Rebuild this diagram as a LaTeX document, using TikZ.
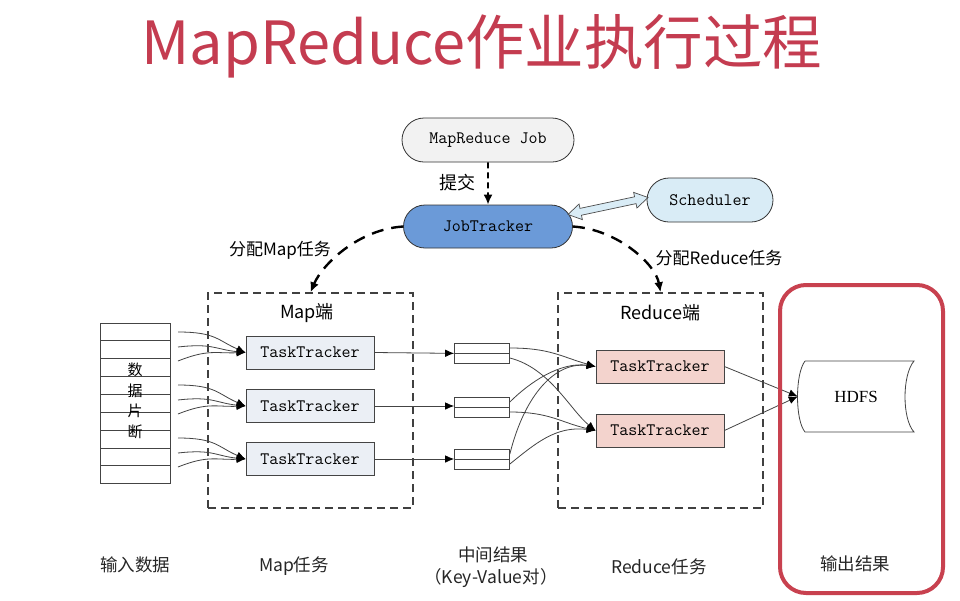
\documentclass[tikz,border=0pt]{standalone}
\usepackage{fontspec}
\setmainfont{Noto Sans CJK SC}
\newfontfamily\serifen{Liberation Serif}
\usetikzlibrary{arrows.meta,shapes.misc,calc}
\definecolor{titlered}{HTML}{C43C50}
\definecolor{boxred}{HTML}{C8414F}
\definecolor{jobfill}{HTML}{F2F2F2}
\definecolor{jtfill}{HTML}{6B9AD8}
\definecolor{schfill}{HTML}{D9ECF6}
\definecolor{mapfill}{HTML}{EBEFF5}
\definecolor{redfill}{HTML}{F3D3CD}
\definecolor{lineg}{HTML}{444444}
\begin{document}
\begin{tikzpicture}[x=1pt,y=-1pt,
  pill/.style={rounded rectangle,draw=black!80,line width=0.8pt,inner sep=0pt,
    font=\ttfamily\fontsize{17.5}{20}\selectfont},
  tt/.style={rectangle,draw=lineg,line width=0.8pt,minimum width=128pt,minimum height=33pt,
    inner sep=0pt,font=\ttfamily\fontsize{17.5}{20}\selectfont},
  kv/.style={rectangle,draw=lineg,line width=0.7pt,minimum width=55pt,minimum height=10pt,inner sep=0pt},
  dashbox/.style={rectangle,draw=black!75,line width=1.6pt,dash pattern=on 8pt off 5pt,
    minimum width=205pt,minimum height=215pt,inner sep=0pt},
  bigdash/.style={line width=2.4pt,dash pattern=on 12pt off 8pt,-{Latex[length=10pt,width=9pt]}},
  thin/.style={draw=lineg,line width=0.8pt,-{Latex[length=9pt,width=7.5pt,color=black]}},
  lab/.style={font=\fontsize{16}{18}\selectfont,inner sep=0pt},
  blab/.style={font=\fontsize{17.5}{22}\selectfont,text=black!85,inner sep=0pt,align=center}]
\fill[white] (0,0) rectangle (960,600);
\useasboundingbox (0,0) rectangle (960,600);

% title
\node[text=titlered,inner sep=0pt,font=\fontsize{59.5}{64}\selectfont] (title) at (482,46) {MapReduce作业执行过程};

% top nodes
\node[pill,fill=jobfill,minimum width=172pt,minimum height=44pt] (job) at (488,140) {MapReduce Job};
\node[pill,fill=jtfill,minimum width=169pt,minimum height=43pt] (jt) at (488,226.5) {JobTracker};
\node[pill,fill=schfill,minimum width=126pt,minimum height=44pt] (sch) at (710,200) {Scheduler};

\draw[line width=1.8pt,dash pattern=on 6pt off 4pt,-{Latex[length=10pt,width=9pt]}] (job) -- (jt);
\node[lab,font=\fontsize{18}{20}\selectfont] (tj) at (457,183) {提交};

% double arrow between JobTracker and Scheduler
\coordinate (da) at (568,214.5);
\coordinate (db) at (648,197.5);
\draw[draw=black!70,line width=0.7pt,fill=schfill,line join=miter]
  (da)
  -- ($(da)!13pt!(db)!8pt!90:(db)$)
  -- ($(da)!13pt!(db)!3.5pt!90:(db)$)
  -- ($(db)!13pt!(da)!3.5pt!-90:(da)$)
  -- ($(db)!13pt!(da)!8pt!-90:(da)$)
  -- (db)
  -- ($(db)!13pt!(da)!8pt!90:(da)$)
  -- ($(db)!13pt!(da)!3.5pt!90:(da)$)
  -- ($(da)!13pt!(db)!3.5pt!-90:(db)$)
  -- ($(da)!13pt!(db)!8pt!-90:(db)$)
  -- cycle;

% dashed boxes
\node[dashbox] (mapbox) at (310.5,400.5) {};
\node[dashbox] (redbox) at (660.5,400.5) {};
\node[lab,font=\fontsize{18}{20}\selectfont] (mapl) at (307,313) {Map端};
\node[lab,font=\fontsize{18}{20}\selectfont] (redl) at (660,313) {Reduce端};

\draw[bigdash] (jt.west) .. controls +(-45,3) and +(12,-28) .. (mapbox.north);
\draw[bigdash] (jt.east) .. controls +(45,3) and +(-5,-28) .. (redbox.north);
\node[lab,font=\fontsize{17}{20}\selectfont] (ml) at (280,250) {分配Map任务};
\node[lab,font=\fontsize{17}{20}\selectfont] (rl) at (719,258) {分配Reduce任务};

% input data stack
\foreach \i in {0,...,8} {
  \draw[draw=lineg,line width=0.8pt] (100,323+\i*17.85) rectangle (170,323+\i*17.85+17.85);
}
\node[inner sep=0pt,align=center,font=\fontsize{15}{20.5}\selectfont] (data) at (135,401) {数\\据\\片\\断};

% map tasktrackers
\node[tt,fill=mapfill] (m1) at (310,352.5) {TaskTracker};
\node[tt,fill=mapfill] (m2) at (310,406) {TaskTracker};
\node[tt,fill=mapfill] (m3) at (310,459) {TaskTracker};

% input arrows
\foreach \n/\y in {m1/332,m2/385,m3/438} {
  \coordinate (a\n) at (178,\y);
  \coordinate (b\n) at (178,\y+15);
  \coordinate (c\n) at (178,\y+29);
  \draw[thin] (a\n) .. controls +(38,0) and +(-28,-12) .. (\n.west);
  \draw[thin] (b\n) .. controls +(35,-4) and +(-30,-3) .. (\n.west);
  \draw[thin] (c\n) .. controls +(30,-12) and +(-30,1) .. (\n.west);
}

% intermediate boxes
\node[kv] (k1a) at (482,348) {};
\node[kv] (k1b) at (482,358) {};
\node[kv] (k2a) at (482,402) {};
\node[kv] (k2b) at (482,412) {};
\node[kv] (k3a) at (482,454) {};
\node[kv] (k3b) at (482,464) {};

\draw[thin] (m1.east) -- (k1a.south west);
\draw[thin] (m2.east) -- (m2.east -| k2a.south west);
\draw[thin] (m3.east) -- (m3.east -| k3a.south west);

% reduce tasktrackers
\node[tt,fill=redfill] (r1) at (660,366.5) {TaskTracker};
\node[tt,fill=redfill] (r2) at (660,430.5) {TaskTracker};

\draw[thin] (k1a.east) .. controls +(40,0) and +(-35,-10) .. (r1.west);
\draw[thin] (k1b.east) .. controls +(40,10) and +(-25,-20) .. (r2.west);
\draw[thin] (k2a.east) .. controls +(20,-20) and +(-35,-5) .. (r1.west);
\draw[thin] (k2b.east) .. controls +(40,0) and +(-35,-8) .. (r2.west);
\draw[thin] (k3a.east) .. controls +(15,-60) and +(-40,-5) .. (r1.west);
\draw[thin] (k3b.east) .. controls +(25,-20) and +(-40,-5) .. (r2.west);

% HDFS
\node[inner sep=0pt,minimum width=116pt,minimum height=71pt,font=\serifen\fontsize{17}{20}\selectfont] (hdfs) at (856,396.5) {HDFS};
\draw[draw=lineg,line width=0.8pt] (805,361) -- (914,361) .. controls (902,375) and (902,419) .. (914,432)
  -- (805,432) .. controls (795,420) and (795,374) .. (805,361);
\draw[thin] (r1.east) -- (hdfs.west);
\draw[thin] (r2.east) -- (hdfs.west);

% red frame
\draw[boxred,line width=4pt,rounded corners=26pt] (780,285) rectangle (943,593);

% bottom labels
\node[blab] (b1) at (135,565) {输入数据};
\node[blab] (b2) at (294,566) {Map任务};
\node[blab] (b3) at (493,555) {中间结果};
\node[blab] (b4) at (491,578) {（Key-Value对）};
\node[blab] (b5) at (659,567) {Reduce任务};
\node[blab] (b6) at (855,564) {输出结果};
\end{tikzpicture}
\end{document}
